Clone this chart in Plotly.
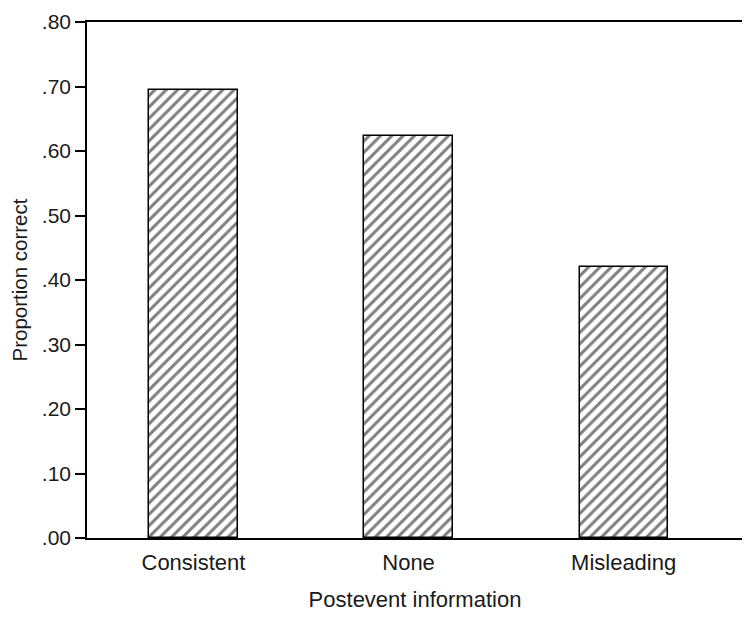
import plotly.graph_objects as go

categories = ["Consistent", "None", "Misleading"]
proportion_correct = [0.695, 0.623, 0.420]
tick_values = [0.0, 0.1, 0.2, 0.3, 0.4, 0.5, 0.6, 0.7, 0.8]
tick_labels = [".00", ".10", ".20", ".30", ".40", ".50", ".60", ".70", ".80"]

FONT = "Liberation Sans, Arial, sans-serif"

fig = go.Figure(
    go.Bar(
        x=categories,
        y=proportion_correct,
        width=0.41,
        marker=dict(
            color="white",
            line=dict(color="black", width=1.5),
            pattern=dict(shape="/", fgcolor="black", bgcolor="white",
                         size=8, solidity=0.38, fillmode="overlay"),
        ),
    )
)

# page body has an 8px default margin, so margins are offset to compensate
fig.update_layout(
    width=750,
    height=620,
    margin=dict(l=79, r=15, t=14, b=90),
    paper_bgcolor="white",
    plot_bgcolor="white",
    showlegend=False,
    font=dict(family=FONT, color="#1a1a1a", size=20),
    bargap=0,
)

fig.update_xaxes(
    range=[-0.495, 2.555],
    automargin=False,
    showline=True, linecolor="black", linewidth=1.5, mirror=True,
    ticks="", showgrid=False, zeroline=False,
    tickfont=dict(size=22),
    ticklabelstandoff=4,
    title=dict(text="Postevent information", font=dict(size=22), standoff=17),
)

fig.update_yaxes(
    range=[0, 0.8],
    automargin=False,
    tickvals=tick_values, ticktext=tick_labels,
    showline=True, linecolor="black", linewidth=1.5, mirror=True,
    ticks="outside", ticklen=10, tickwidth=1.5, tickcolor="black",
    showgrid=False, zeroline=False,
    tickfont=dict(size=21),
    title=dict(text="Proportion correct", font=dict(size=20.5), standoff=10),
)

fig.write_html("out.html")
